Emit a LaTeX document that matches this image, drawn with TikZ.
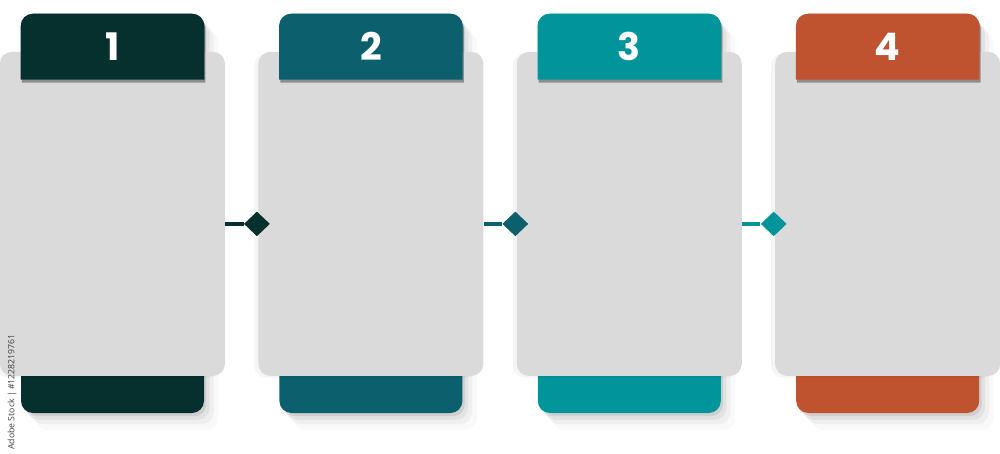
\documentclass[tikz,border=0pt]{standalone}
\usepackage{fontspec}
\setmainfont{Poppins}
\newfontfamily\markfont{Open Sans}
\usetikzlibrary{positioning,shapes.geometric,shadows}

\definecolor{cone}{HTML}{06302D}
\definecolor{ctwo}{HTML}{0C5F6D}
\definecolor{cthree}{HTML}{01959B}
\definecolor{cfour}{HTML}{BF522F}
\definecolor{sheet}{HTML}{DADADA}

\tikzset{
  softshadow/.style={
    drop shadow={shadow xshift=0.06cm,shadow yshift=-0.08cm,opacity=0.08,fill=black},
    drop shadow={shadow xshift=0.14cm,shadow yshift=-0.17cm,opacity=0.06,fill=black},
    drop shadow={shadow xshift=0.24cm,shadow yshift=-0.28cm,opacity=0.04,fill=black},
    drop shadow={shadow xshift=0.36cm,shadow yshift=-0.42cm,opacity=0.025,fill=black}},
  back/.style={rectangle,rounded corners=0.3cm,minimum width=4.575cm,
    minimum height=9.975cm,inner sep=0,softshadow},
  panel/.style={rectangle,rounded corners=0.3cm,fill=sheet,minimum width=5.625cm,
    minimum height=8.1cm,inner sep=0,
    drop shadow={shadow xshift=-0.1cm,shadow yshift=-0.04cm,opacity=0.04,fill=black}},
  tabshadow/.style={drop shadow={shadow xshift=0.03cm,shadow yshift=-0.07cm,opacity=0.35,fill=black}},
  num/.style={text=white,font=\fontsize{27}{27}\selectfont\bfseries,inner sep=0},
  gem/.style={diamond,minimum width=0.65cm,minimum height=0.62cm,inner sep=0},
  link/.style={line width=0.1cm}
}

\begin{document}
\begin{tikzpicture}
\useasboundingbox (0,0) rectangle (25,-11.35);

% coloured cards behind
\node[back,fill=cone] (b1) at (2.8125,-5.3375) {};
\node[back,fill=ctwo] (b2) [right of=b1,node distance=6.46cm] {};
\node[back,fill=cthree] (b3) [right of=b2,node distance=6.46cm] {};
\node[back,fill=cfour] (b4) [right of=b3,node distance=6.46cm] {};

% grey sheets
\node[panel] (p1) at ([yshift=-0.01cm]b1.center) {};
\node[panel] (p2) at ([yshift=-0.01cm]b2.center) {};
\node[panel] (p3) at ([yshift=-0.01cm]b3.center) {};
\node[panel] (p4) at ([yshift=-0.01cm]b4.center) {};

% tabs on top
\fill[cone,tabshadow] ([yshift=-1.65cm]b1.north west) [rounded corners=0.3cm]
  -- (b1.north west) -- (b1.north east) [sharp corners] -- ([yshift=-1.65cm]b1.north east) -- cycle;
\fill[ctwo,tabshadow] ([yshift=-1.65cm]b2.north west) [rounded corners=0.3cm]
  -- (b2.north west) -- (b2.north east) [sharp corners] -- ([yshift=-1.65cm]b2.north east) -- cycle;
\fill[cthree,tabshadow] ([yshift=-1.65cm]b3.north west) [rounded corners=0.3cm]
  -- (b3.north west) -- (b3.north east) [sharp corners] -- ([yshift=-1.65cm]b3.north east) -- cycle;
\fill[cfour,tabshadow] ([yshift=-1.65cm]b4.north west) [rounded corners=0.3cm]
  -- (b4.north west) -- (b4.north east) [sharp corners] -- ([yshift=-1.65cm]b4.north east) -- cycle;

\node[num] (n1) at ([yshift=-0.825cm]b1.north) {1};
\node[num] (n2) at ([yshift=-0.825cm]b2.north) {2};
\node[num] (n3) at ([yshift=-0.825cm]b3.north) {3};
\node[num] (n4) at ([yshift=-0.825cm]b4.north) {4};

% connectors
\node[gem,fill=cone] (d1) at ([xshift=-0.03cm,yshift=-0.25cm]p2.west) {};
\node[gem,fill=ctwo] (d2) at ([xshift=-0.03cm,yshift=-0.25cm]p3.west) {};
\node[gem,fill=cthree] (d3) at ([xshift=-0.03cm,yshift=-0.25cm]p4.west) {};

\draw[link,cone] (d1.center -| p1.east) -- (d1);
\draw[link,ctwo] (d2.center -| p2.east) -- (d2);
\draw[link,cthree] (d3.center -| p3.east) -- (d3);

\node[rotate=90,text=black!75,font=\markfont\fontsize{6.2}{7}\selectfont,inner sep=0]
  (mark) at (0.3,-9.8) {Adobe Stock | \#1228219761};
\end{tikzpicture}
\end{document}
